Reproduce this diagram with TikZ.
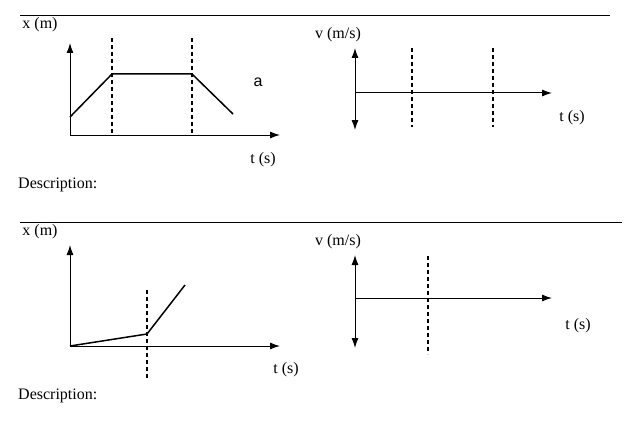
\documentclass[tikz,border=0pt]{standalone}
\usepackage{fontspec}
\setmainfont{Liberation Serif}
\setsansfont{Liberation Sans}
\usetikzlibrary{arrows.meta}
\begin{document}
\begin{tikzpicture}[x=1pt,y=-1pt,
  lbl/.style={font=\fontsize{16}{18}\selectfont,inner sep=0pt},
  ax/.style={line width=1pt,-{Latex[length=10pt,width=7pt]}},
  dax/.style={line width=1pt,{Latex[length=10pt,width=7pt]}-{Latex[length=10pt,width=7pt]}},
  dsh/.style={line width=1.5pt,dash pattern=on 4pt off 3pt},
  gr/.style={line width=1.5pt}]
\useasboundingbox (0,0) rectangle (636,425);
% panel 1
\draw[line width=0.6pt] (20,15) -- (610,15);
\node[lbl] (x1) at (40,25) {x (m)};
\coordinate (o1) at (70,135);
\draw[ax] (o1) -- (70,43);
\draw[ax] (o1) -- (280,135);
\draw[gr] (70,117) -- (112,74) -- (192,74) -- (233,114);
\draw[dsh] (112,38) -- (112,135);
\draw[dsh] (192,38) -- (192,135);
\node[lbl,font=\sffamily\fontsize{16}{18}\selectfont] (a) at (258,82) {a};
\node[lbl] (t1) at (263,160) {t (s)};
\node[lbl] (v1) at (338,35) {v (m/s)};
\draw[dax] (355,130) -- (355,48);
\draw[ax] (355,93) -- (552,93);
\draw[dsh] (412,48) -- (412,127);
\draw[dsh] (493,48) -- (493,127);
\node[lbl] (t2) at (572,118) {t (s)};
\node[lbl,anchor=west] (d1) at (18,185) {Description:};
% panel 2
\draw[line width=0.6pt] (20,222) -- (622,222);
\node[lbl] (x2) at (40,232) {x (m)};
\coordinate (o2) at (70,346);
\draw[ax] (o2) -- (70,245);
\draw[ax] (o2) -- (280,346);
\draw[gr] (70,346) -- (147,334) -- (185,285);
\draw[dsh] (147,290) -- (147,378);
\node[lbl] (t3) at (286,370) {t (s)};
\node[lbl] (v2) at (338,242) {v (m/s)};
\draw[dax] (355,348) -- (355,255);
\draw[ax] (355,298) -- (552,298);
\draw[dsh] (428,256) -- (428,354);
\node[lbl] (t4) at (578,326) {t (s)};
\node[lbl,anchor=west] (d2) at (18,396) {Description:};
\end{tikzpicture}
\end{document}
